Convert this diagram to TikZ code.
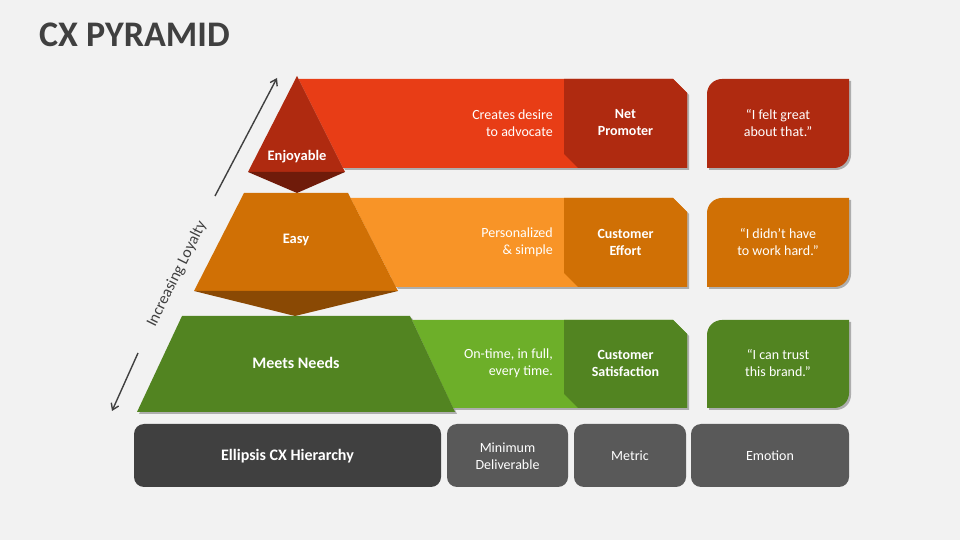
\documentclass[tikz,border=0pt]{standalone}
\usepackage{fontspec}
\setmainfont{Carlito}
\usetikzlibrary{arrows.meta}
\definecolor{bg}{HTML}{F2F2F2}
\definecolor{redband}{HTML}{E83D16}
\definecolor{reddark}{HTML}{AF2A10}
\definecolor{redshade}{HTML}{6F1B0A}
\definecolor{orband}{HTML}{F89427}
\definecolor{ordark}{HTML}{D07005}
\definecolor{orshade}{HTML}{8A4904}
\definecolor{grband}{HTML}{6DAF29}
\definecolor{grdark}{HTML}{528421}
\definecolor{darkbox}{HTML}{404040}
\definecolor{greybox}{HTML}{595959}
\definecolor{titlecol}{HTML}{404040}
\tikzset{
  txt/.style={text=white,font=\fontsize{14}{17}\selectfont,inner sep=0pt},
  btxt/.style={text=white,font=\fontsize{14}{17}\selectfont\bfseries,inner sep=0pt,align=center},
  shadow/.style={fill=black,opacity=0.28},
  loyal/.style={draw=darkbox,line width=1.4pt,-{Straight Barb[length=6pt,width=8pt]}},
}
\begin{document}
\begin{tikzpicture}[x=1pt,y=1pt]
\useasboundingbox (0,0) rectangle (960,540);
\fill[bg] (0,0) rectangle (960,540);
\node[anchor=west,text=titlecol,font=\fontsize{36}{40}\selectfont\bfseries,inner sep=0pt] (title) at (39,505) {CX PYRAMID};

% ---------- shadows ----------
\begin{scope}[shift={(2,-2)}]
\fill[shadow] (298.5,461)--(673,461)--(687,447)--(687,372)--(343,372)--cycle;
\fill[shadow] (707,446) arc[start angle=180,end angle=90,radius=15] -- (849,461) -- (849,387) arc[start angle=0,end angle=-90,radius=15] -- (707,372) -- cycle;
\fill[shadow] (350.5,342)--(673,342)--(687,328)--(687,253)--(396,253)--cycle;
\fill[shadow] (707,327) arc[start angle=180,end angle=90,radius=15] -- (849,342) -- (849,268) arc[start angle=0,end angle=-90,radius=15] -- (707,253) -- cycle;
\fill[shadow] (412,220)--(673,220)--(687,206)--(687,132)--(453,132)--cycle;
\fill[shadow] (707,205) arc[start angle=180,end angle=90,radius=15] -- (849,220) -- (849,147) arc[start angle=0,end angle=-90,radius=15] -- (707,132) -- cycle;
\fill[shadow] (137,128)--(455,128)--(410,224)--(182,224)--cycle;
\end{scope}

% ---------- red row ----------
\fill[redband] (298.5,461)--(673,461)--(687,447)--(687,372)--(343,372)--cycle;
\fill[reddark] (564,461)--(673,461)--(687,447)--(687,372)--(578,372)--(564,386)--cycle;
\fill[reddark] (707,446) arc[start angle=180,end angle=90,radius=15] -- (849,461) -- (849,387) arc[start angle=0,end angle=-90,radius=15] -- (707,372) -- cycle;
\fill[reddark] (297,464)--(345,368)--(248,368)--cycle;
\fill[redshade] (248,368)--(345,368)--(297,347)--cycle;

% ---------- orange row ----------
\fill[orband] (350.5,342)--(673,342)--(687,328)--(687,253)--(396,253)--cycle;
\fill[ordark] (564,342)--(673,342)--(687,328)--(687,253)--(578,253)--(564,267)--cycle;
\fill[ordark] (707,327) arc[start angle=180,end angle=90,radius=15] -- (849,342) -- (849,268) arc[start angle=0,end angle=-90,radius=15] -- (707,253) -- cycle;
\fill[ordark] (244,347)--(348,347)--(398,249)--(194,249)--cycle;
\fill[orshade] (194,249)--(398,249)--(295,224)--cycle;

% ---------- green row ----------
\fill[grband] (412,220)--(673,220)--(687,206)--(687,132)--(453,132)--cycle;
\fill[grdark] (564,220)--(673,220)--(687,206)--(687,132)--(578,132)--(564,146)--cycle;
\fill[grdark] (707,205) arc[start angle=180,end angle=90,radius=15] -- (849,220) -- (849,147) arc[start angle=0,end angle=-90,radius=15] -- (707,132) -- cycle;
\fill[grdark] (137,128)--(455,128)--(410,224)--(182,224)--cycle;

% ---------- labels ----------
\node[btxt,font=\fontsize{14.5}{17}\selectfont\bfseries] (enj) at (297,383) {Enjoyable};
\node[btxt,font=\fontsize{14.5}{17}\selectfont\bfseries] (easy) at (296,300) {Easy};
\node[btxt,font=\fontsize{16}{18}\selectfont\bfseries] (needs) at (296,177) {Meets Needs};

\node[txt,align=right,anchor=east] (d1) at (553,417) {Creates desire\\to advocate};
\node[txt,align=right,anchor=east] (d2) at (553,298) {Personalized\\\& simple};
\node[txt,align=right,anchor=east] (d3) at (553,177) {On-time, in full,\\every time.};

\node[btxt] (m1) at (625.5,417) {Net\\Promoter};
\node[btxt] (m2) at (625.5,298) {Customer\\Effort};
\node[btxt] (m3) at (625.5,177) {Customer\\Satisfaction};

\node[txt,align=center] (e1) at (778,417) {“I felt great\\about that.”};
\node[txt,align=center] (e2) at (778,298) {“I didn’t have\\to work hard.”};
\node[txt,align=center] (e3) at (778,177) {“I can trust\\this brand.”};

% ---------- bottom row ----------
\fill[darkbox,rounded corners=10pt] (134,53) rectangle (441,116);
\fill[greybox,rounded corners=10pt] (447,53) rectangle (568,116);
\fill[greybox,rounded corners=10pt] (574,53) rectangle (686,116);
\fill[greybox,rounded corners=10pt] (691,53) rectangle (849,116);
\node[btxt,font=\fontsize{16}{18}\selectfont\bfseries] (b1) at (287.5,84) {Ellipsis CX Hierarchy};
\node[txt,align=center] (b2) at (507.5,84) {Minimum\\Deliverable};
\node[txt] (b3) at (630,84) {Metric};
\node[txt] (b4) at (770,84) {Emotion};

% ---------- loyalty arrow ----------
\coordinate (upS) at (215,344);
\coordinate (upE) at (277,462);
\coordinate (dnS) at (138,187);
\coordinate (dnE) at (112,129);
\draw[loyal] (upS) -- (upE);
\draw[loyal] (dnS) -- (dnE);
\node[text=darkbox,font=\fontsize{16}{18}\selectfont,rotate=63.6,inner sep=0pt] (loy) at (177,266) {Increasing Loyalty};
\end{tikzpicture}
\end{document}
